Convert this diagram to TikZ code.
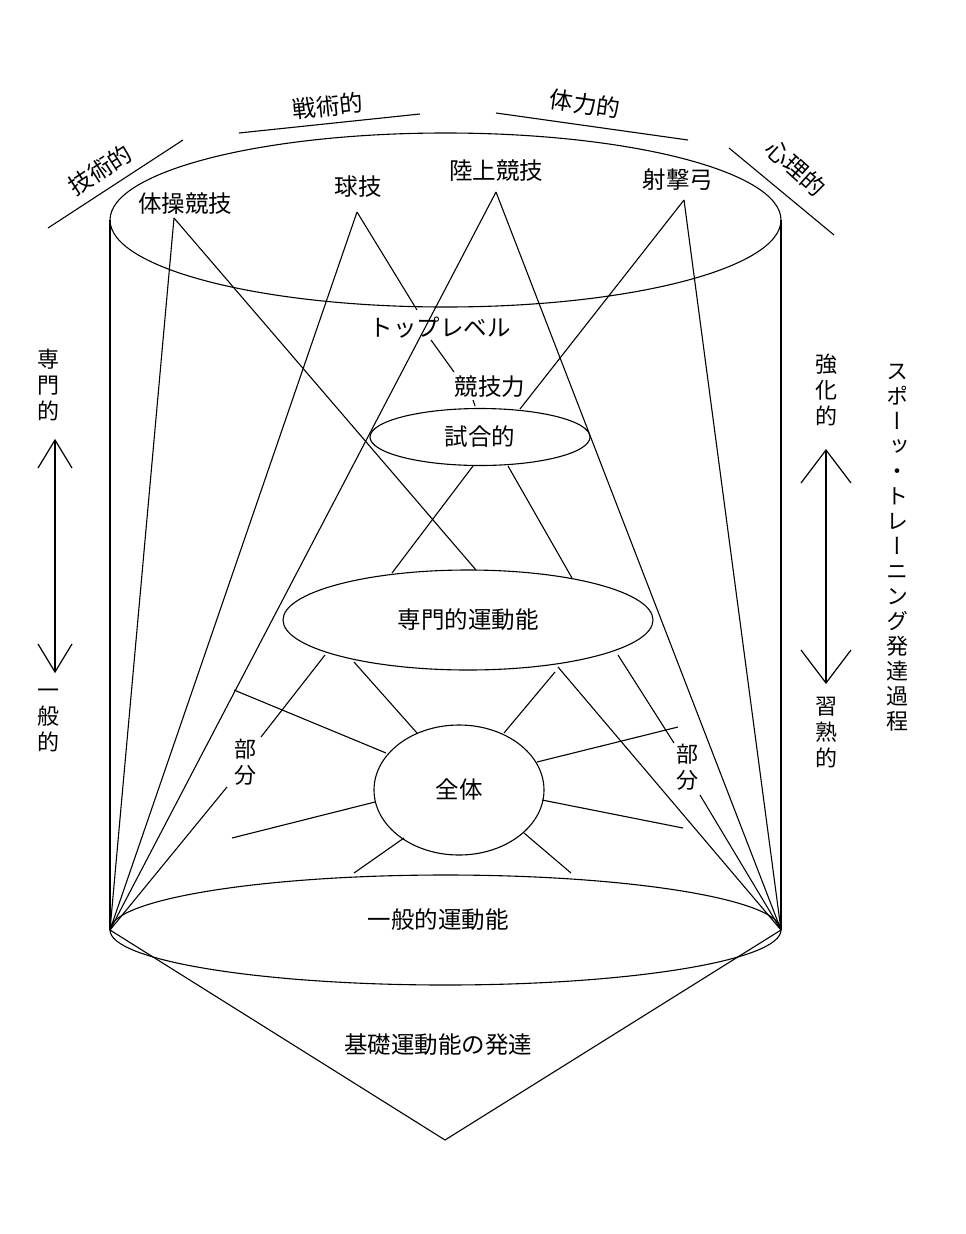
\documentclass[tikz,border=0pt]{standalone}
\usepackage{fontspec}
\usetikzlibrary{shapes.geometric}
\setmainfont{Noto Sans CJK JP}
\newfontfamily\vfont[RawFeature=+vert]{Noto Sans CJK JP}
\begin{document}
\begin{tikzpicture}[x=1pt,y=-1pt,line width=1.1pt,
  lbl/.style={font=\fontsize{23.5}{26}\selectfont,inner sep=1pt},
  vlbl/.style={font=\vfont\fontsize{22}{26}\selectfont,align=center,inner sep=1pt},
  ell/.style={draw,ellipse},
  dbl/.style={line width=1.2pt}]
\useasboundingbox (0,0) rectangle (966,1234);
\fill[white] (0,0) rectangle (966,1234);
% key points
\coordinate (L) at (110,930);
\coordinate (R) at (781,930);
\coordinate (TL) at (110,220);
\coordinate (TR) at (781,220);
\coordinate (tip) at (445,1140);
% ellipses
\draw (445.5,220) ellipse [x radius=335.5, y radius=87];
\draw (445.5,930) ellipse [x radius=335.5, y radius=55];
\draw (TL) -- (L) (TR) -- (R);
\draw (L) -- (tip) -- (R);
% top labels
\node[lbl,rotate=33] (tech) at (100,170) {技術的};
\node[lbl,rotate=6] (tact) at (328,106) {戦術的};
\node[lbl,rotate=-8] (phys) at (585,104) {体力的};
\node[lbl,rotate=-42] (psy) at (796,168) {心理的};
\coordinate (t1a) at (48,228); \coordinate (t1b) at (183,140);
\coordinate (t2a) at (239,133); \coordinate (t2b) at (420,114);
\coordinate (t3a) at (496,113); \coordinate (t3b) at (688,140);
\coordinate (t4a) at (729,148); \coordinate (t4b) at (834,235);
\draw (t1a)--(t1b) (t2a)--(t2b) (t3a)--(t3b) (t4a)--(t4b);
% sports
\node[lbl] (gym) at (185,204) {体操競技};
\node[lbl] (ball) at (358,187) {球技};
\node[lbl] (track) at (496,171) {陸上競技};
\node[lbl] (shoot) at (678,180) {射撃弓};
\coordinate (A1) at (174,218);
\coordinate (A2) at (357,212);
\coordinate (A3) at (496,192);
\coordinate (A4) at (684,200);
% inner items
\node[lbl] (top) at (440,328) {トップレベル};
\node[lbl] (comp) at (490,387) {競技力};
\node[ell,minimum width=220pt,minimum height=57pt,lbl] (match) at (480,437) {試合的};
\node[ell,minimum width=370pt,minimum height=100pt,lbl] (spec) at (468,620) {専門的運動能};
\node[ell,minimum width=170pt,minimum height=130pt,lbl] (whole) at (459,790) {全体};
\node[lbl] (gen) at (438,920) {一般的運動能};
\node[lbl] (basic) at (438,1045) {基礎運動能の発達};
\node[vlbl] (partL) at (245,762) {部\\分};
\node[vlbl] (partR) at (687,767) {部\\分};
\coordinate (s1) at (476,570);
% lines from sports
\draw (A1) -- (L);
\draw (A1) -- (s1);
\draw (A2) -- (L);
\draw (A2) -- (417,310) (431,340) -- (454,372);
\draw (473,400) -- (475,406);
\draw (A3) -- (L);
\draw (A3) -- (R);
\draw (A4) -- (520,409);
\draw (A4) -- (R);
% from match to spec
\draw (473,466) -- (392,573);
\draw (508,466) -- (572,578);
% from spec to corners
\draw (325,655) -- (261,737) (227,787) -- (L);
\draw (618,655) -- (674,743) (700,795) -- (R);
\draw (558,667) -- (R);
% rays
\draw (234,690) -- (386,753);
\draw (354,662) -- (417,733);
\draw (555,672) -- (504,733);
\draw (678,727) -- (537,762);
\draw (232,838) -- (375,802);
\draw (542,800) -- (683,828);
\draw (354,873) -- (404,838);
\draw (524,833) -- (571,873);
% left side
\node[vlbl] (specL) at (48,385) {専\\門\\的};
\node[vlbl] (genL) at (48,720) {一\\般\\的};
\coordinate (la) at (55,440); \coordinate (lb) at (55,672);
\draw[dbl] (la) -- (lb);
\draw[dbl] (38,468) -- (la) -- (72,468);
\draw[dbl] (38,644) -- (lb) -- (72,644);
% right side
\node[vlbl] (strR) at (826,390) {強\\化\\的};
\node[vlbl] (habR) at (826,733) {習\\熟\\的};
\coordinate (ra) at (826,450); \coordinate (rb) at (826,683);
\draw[dbl] (ra) -- (rb);
\draw[dbl] (801,483) -- (ra) -- (851,483);
\draw[dbl] (801,650) -- (rb) -- (851,650);
\node[vlbl,font=\vfont\fontsize{22}{25}\selectfont] (proc) at (897,548) {ス\\ポ\\ー\\ッ\\・\\ト\\レ\\ー\\ニ\\ン\\グ\\発\\達\\過\\程};
\end{tikzpicture}
\end{document}
